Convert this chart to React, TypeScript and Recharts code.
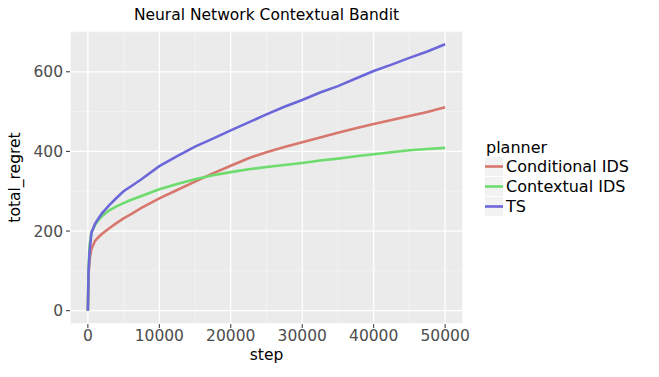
import React from 'react';
import { LineChart, Line, XAxis, YAxis, CartesianGrid, ReferenceLine, Legend, Label } from 'recharts';

const steps = [0, 100, 250, 500, 1000, 1500, 2000, 3000, 4000, 5000, 6000, 7500, 10000, 12500, 15000, 17500, 20000, 22500, 25000, 27500, 30000, 32500, 35000, 37500, 40000, 42500, 45000, 47500, 50000];
const conditionalIDS = [0, 90, 130, 155, 175, 185, 193, 207, 220, 232, 242, 258, 282, 303, 324, 345, 364, 383, 398, 411, 423, 435, 447, 458, 469, 479, 489, 499, 511];
const contextualIDS = [0, 110, 165, 198, 215, 228, 238, 252, 262, 270, 278, 288, 305, 318, 330, 340, 348, 355, 361, 366, 371, 377, 382, 388, 393, 398, 403, 406, 409];
const ts = [0, 100, 150, 195, 218, 232, 245, 265, 283, 300, 312, 330, 363, 388, 412, 432, 453, 473, 493, 512, 529, 548, 564, 583, 602, 618, 635, 651, 669];

const xTicks = [0, 10000, 20000, 30000, 40000, 50000];
const yTicks = [0, 200, 400, 600];
const xMinor = [5000, 15000, 25000, 35000, 45000];
const yMinor = [100, 300, 500, 700];

const series = [
  { key: 'Conditional IDS', values: conditionalIDS, color: '#d7776e' },
  { key: 'Contextual IDS', values: contextualIDS, color: '#6ddb6d' },
  { key: 'TS', values: ts, color: '#6c67d9' },
];

const data = steps.map((s, i) => {
  const row: Record<string, number> = { step: s };
  series.forEach((se) => { row[se.key] = se.values[i]; });
  return row;
});

const FONT = '"DejaVu Sans", sans-serif';

const LegendContent = () => (
  <svg width={170} height={100} style={{ display: 'block' }}>
    <text x={1} y={23} fontFamily={FONT} fontSize={16} fill="#000">planner</text>
    {series.map((s, i) => (
      <g key={s.key}>
        <rect x={0} y={27 + i * 20} width={18} height={19} fill="#f2f2f2" />
        <line x1={0} x2={18} y1={36.5 + i * 20} y2={36.5 + i * 20} stroke={s.color} strokeWidth={2.6} />
        <text x={21} y={42 + i * 20} fontFamily={FONT} fontSize={16} fill="#000">{s.key}</text>
      </g>
    ))}
  </svg>
);

export default function App() {
  return (
    <div style={{ position: 'absolute', left: 0, top: 0, width: 659, height: 377, background: '#fff' }}>
      <div style={{ position: 'absolute', left: 70, width: 393, top: 5, textAlign: 'center', fontFamily: FONT, fontSize: 15.5, color: '#000', lineHeight: '20px' }}>
        Neural Network Contextual Bandit
      </div>
      <LineChart width={659} height={377} data={data} margin={{ top: 31, right: 196, bottom: 0, left: 0 }}>
        <CartesianGrid fill="#ebebeb" stroke="#ffffff" strokeWidth={1.3} />
        {xMinor.map((v) => (
          <ReferenceLine key={'x' + v} x={v} stroke="#f7f7f7" strokeWidth={0.7} />
        ))}
        {yMinor.map((v) => (
          <ReferenceLine key={'y' + v} y={v} stroke="#f7f7f7" strokeWidth={0.7} />
        ))}
        <XAxis
          dataKey="step"
          type="number"
          domain={[-2500, 52500]}
          ticks={xTicks}
          allowDataOverflow
          height={53}
          axisLine={false}
          tickSize={4}
          tickMargin={2}
          tickLine={{ stroke: '#333333' }}
          tick={{ fill: '#4d4d4d', fontSize: 15.5, fontFamily: FONT }}
        >
          <Label value="step" position="insideBottom" offset={17} fill="#000" fontSize={15.5} fontFamily={FONT} />
        </XAxis>
        <YAxis
          type="number"
          domain={[-33.45, 702.45]}
          ticks={yTicks}
          allowDataOverflow
          width={70}
          axisLine={false}
          tickSize={4}
          tickMargin={3}
          tickLine={{ stroke: '#333333' }}
          tick={{ fill: '#4d4d4d', fontSize: 15.5, fontFamily: FONT }}
        >
          <Label value="total_regret" angle={-90} position="insideLeft" offset={14} fill="#000" fontSize={15.5} fontFamily={FONT} style={{ textAnchor: 'middle' }} />
        </YAxis>
        <Legend
          layout="horizontal"
          align="center"
          verticalAlign="middle"
          wrapperStyle={{ position: 'absolute', left: 485, top: 130, width: 170, height: 100 }}
          content={() => <LegendContent />}
        />
        {series.map((s) => (
          <Line key={s.key} dataKey={s.key} stroke={s.color} strokeWidth={2.6} dot={false} type="linear" isAnimationActive={false} />
        ))}
      </LineChart>
    </div>
  );
}
